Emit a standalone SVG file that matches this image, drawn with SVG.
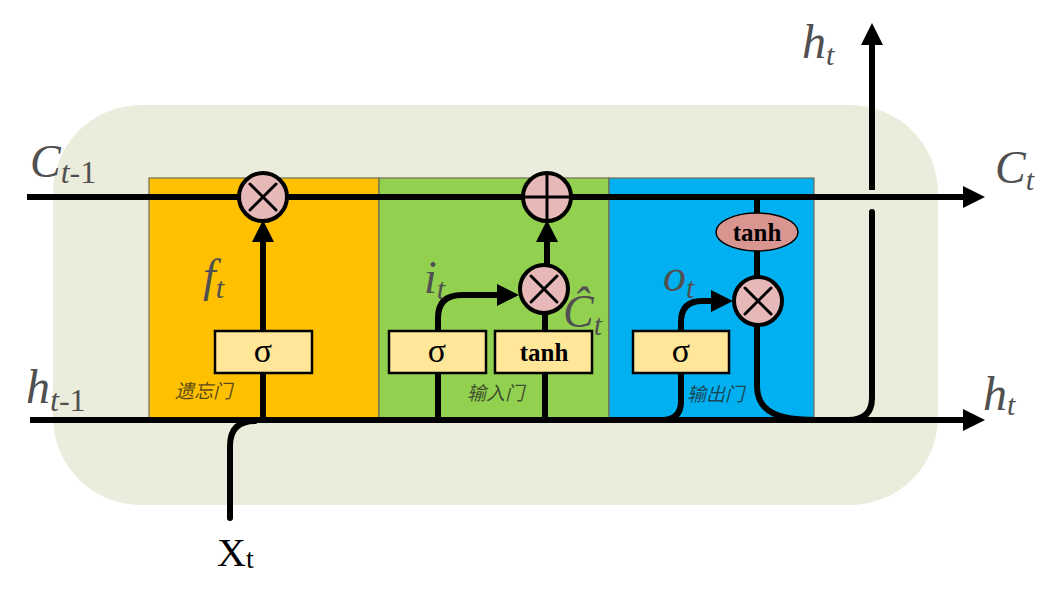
<svg xmlns="http://www.w3.org/2000/svg" width="1054" height="603" viewBox="0 0 1054 603">
<defs>
<marker id="ah" markerUnits="userSpaceOnUse" markerWidth="24" markerHeight="24" refX="0" refY="11" orient="auto">
<path d="M0,0 L22,11 L0,22 z" fill="#000"/>
</marker>
<style>
.gate{stroke:#6f6f55;stroke-width:1.2}
.ln{fill:none;stroke:#000;stroke-width:6;stroke-linecap:round}
.la{fill:none;stroke:#000;stroke-width:6;stroke-linecap:butt;marker-end:url(#ah)}
.op{fill:#E6B9B8;stroke:#000;stroke-width:4}
.x{stroke:#000;stroke-width:3;stroke-linecap:round}
.box{fill:#FFE699;stroke:#000;stroke-width:2.5}
.fn{font-family:"Liberation Serif",serif;fill:#000;text-anchor:middle}
.th{font-size:25px;font-weight:bold}
.m{font-family:"Liberation Serif",serif;font-style:italic;fill:#505050}
.up{font-style:normal}
.cn{font-family:"Liberation Serif","Noto Sans CJK SC",sans-serif;font-style:italic;font-size:19px;fill:#222;fill-opacity:0.75}
</style>
</defs>
<rect id="cell" x="53" y="105" width="885" height="400" rx="88" fill="#EBECDB"/>
<g id="forget-gate"><rect class="gate" x="149" y="178" width="230" height="242" fill="#FFC000"/></g>
<g id="input-gate"><rect class="gate" x="379" y="178" width="230" height="242" fill="#92D050"/></g>
<g id="output-gate"><rect class="gate" x="609" y="178" width="205" height="242" fill="#00B0F0"/></g>
<g id="connectors">
<line class="la" x1="27" y1="197" x2="963" y2="197"/>
<line class="la" x1="30" y1="420" x2="963" y2="420"/>
<path class="ln" d="M230,518 V446 Q230,421 255,421"/>
<line class="ln" x1="263" y1="420" x2="263" y2="373"/>
<path class="la" d="M263,333 V242"/>
<line class="ln" x1="438" y1="420" x2="438" y2="373"/>
<line class="ln" x1="545" y1="420" x2="545" y2="373"/>
<path class="la" d="M438,331 V318 Q438,295 462,295 H497"/>
<line class="ln" x1="545" y1="331" x2="545" y2="313"/>
<path class="la" d="M547,266 V242"/>
<path class="ln" d="M662,420 Q681,420 681,401 V373"/>
<path class="la" d="M681,331 V322 Q681,301 702,301 H711"/>
<line class="ln" x1="757" y1="197" x2="757" y2="214"/>
<line class="ln" x1="757" y1="250" x2="757" y2="278"/>
<path class="ln" d="M757,326 V386 C757,414 782,420 815,420"/>
<path class="ln" d="M848,420 Q872,420 872,398 V212"/>
<path class="la" d="M872,190 V45"/>
</g>
<g id="forget-mult"><circle class="op" cx="263" cy="197" r="24"/><line class="x" x1="250" y1="184" x2="276" y2="210"/><line class="x" x1="276" y1="184" x2="250" y2="210"/></g>
<g id="forget-sigma"><rect class="box" x="215" y="331" width="97" height="42"/><text class="fn" x="263" y="362" font-size="34">σ</text></g>
<g id="input-add"><circle class="op" cx="547" cy="197" r="24"/><line class="x" x1="524" y1="197" x2="570" y2="197"/><line class="x" x1="547" y1="174" x2="547" y2="220"/></g>
<g id="input-mult"><circle class="op" cx="544" cy="289" r="24"/><line class="x" x1="531" y1="276" x2="557" y2="302"/><line class="x" x1="557" y1="276" x2="531" y2="302"/></g>
<g id="input-sigma"><rect class="box" x="389" y="331" width="97" height="42"/><text class="fn" x="437" y="362" font-size="34">σ</text></g>
<g id="input-tanh"><rect class="box" x="495" y="331" width="97" height="42"/><text class="fn th" x="544" y="361">tanh</text></g>
<g id="output-tanh"><ellipse cx="757" cy="232" rx="41" ry="19" fill="#D9958F" stroke="#000" stroke-width="1.5"/><text class="fn th" x="757" y="241">tanh</text></g>
<g id="output-mult"><circle class="op" cx="758" cy="301" r="24"/><line class="x" x1="745" y1="288" x2="771" y2="314"/><line class="x" x1="771" y1="288" x2="745" y2="314"/></g>
<g id="output-sigma"><rect class="box" x="633" y="331" width="96" height="42"/><text class="fn" x="681" y="362" font-size="34">σ</text></g>
<g id="labels">
<text class="m" x="30" y="177" font-size="46">C<tspan font-size="32" dy="6">t</tspan><tspan class="up" font-size="32">-1</tspan></text>
<text class="m" x="26" y="403" font-size="48">h<tspan font-size="32" dy="8">t</tspan><tspan class="up" font-size="32">-1</tspan></text>
<text class="m" x="802" y="58" font-size="48">h<tspan font-size="30" dy="7">t</tspan></text>
<text class="m" x="995" y="183" font-size="46">C<tspan font-size="30" dy="7">t</tspan></text>
<text class="m" x="983" y="410" font-size="48">h<tspan font-size="30" dy="5">t</tspan></text>
<text class="m" x="203" y="291" font-size="46">f<tspan font-size="30" dy="7">t</tspan></text>
<text class="m" x="424" y="293" font-size="46">i<tspan font-size="30" dy="6">t</tspan></text>
<text class="m" x="563" y="327" font-size="46">Ĉ<tspan font-size="30" dy="8">t</tspan></text>
<text class="m" x="663" y="291" font-size="46">o<tspan font-size="30" dy="7">t</tspan></text>
<text x="217" y="566" font-family="Liberation Serif,serif" font-size="40" fill="#000">X<tspan font-size="28" dy="2">t</tspan></text>
<text class="cn" x="175" y="398">遗忘门</text>
<text class="cn" x="467" y="400">输入门</text>
<text class="cn" x="687" y="401">输出门</text>
</g>
</svg>
